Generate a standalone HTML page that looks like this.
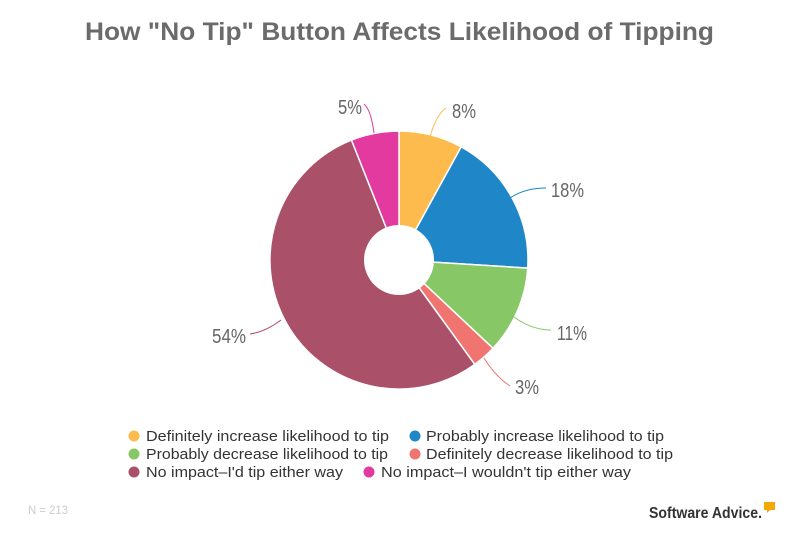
<!DOCTYPE html>
<html><head><style>
body{margin:0;background:#fff;}
svg{display:block;}
</style></head><body>
<svg width="800" height="540" xmlns="http://www.w3.org/2000/svg" font-family="Liberation Sans, sans-serif">
<text x="85" y="40" font-size="25" font-weight="bold" fill="#6b6b6b" textLength="629" lengthAdjust="spacingAndGlyphs">How "No Tip" Button Affects Likelihood of Tipping</text>
<g stroke="#fff" stroke-width="1.5">
<path d="M399,260 L399,131 A129,129 0 0 1 461.2,146.9 Z" fill="#FDBA4D"/>
<path d="M399,260 L461.2,146.9 A129,129 0 0 1 527.7,268.1 Z" fill="#1F87C8"/>
<path d="M399,260 L527.7,268.1 A129,129 0 0 1 493.0,348.3 Z" fill="#88C766"/>
<path d="M399,260 L493.0,348.3 A129,129 0 0 1 474.8,364.4 Z" fill="#F07470"/>
<path d="M399,260 L474.8,364.4 A129,129 0 1 1 351.5,140.1 Z" fill="#AB5069"/>
<path d="M399,260 L351.5,140.1 A129,129 0 0 1 399,131 Z" fill="#E23A9E"/>
</g>
<circle cx="399" cy="260" r="35" fill="#fff"/>
<g fill="none" stroke-width="1">
<path d="M430,137 Q436,115 446,108" stroke="#FDBA4D"/>
<path d="M510,198 Q525,188 546,188" stroke="#1F87C8"/>
<path d="M510,314 Q530,330 551,330" stroke="#88C766"/>
<path d="M484,358 Q495,376 510,386" stroke="#F07470"/>
<path d="M281,320 Q265,332 250,334" stroke="#AB5069"/>
<path d="M374,133 Q371,110 364,104" stroke="#E23A9E"/>
</g>
<g font-size="20" fill="#666" lengthAdjust="spacingAndGlyphs">
<text x="452" y="118" textLength="24" lengthAdjust="spacingAndGlyphs">8%</text>
<text x="551" y="197" textLength="33" lengthAdjust="spacingAndGlyphs">18%</text>
<text x="557" y="340" textLength="30" lengthAdjust="spacingAndGlyphs">11%</text>
<text x="515" y="394" textLength="24" lengthAdjust="spacingAndGlyphs">3%</text>
<text x="212" y="343" textLength="34" lengthAdjust="spacingAndGlyphs">54%</text>
<text x="338" y="114" textLength="24" lengthAdjust="spacingAndGlyphs">5%</text>
</g>
<g font-size="15" fill="#333">
<circle cx="134" cy="436" r="5.5" fill="#FDBA4D"/><text x="146" y="441" textLength="243" lengthAdjust="spacingAndGlyphs">Definitely increase likelihood to tip</text>
<circle cx="415" cy="436" r="5.5" fill="#1F87C8"/><text x="426" y="441" textLength="238" lengthAdjust="spacingAndGlyphs">Probably increase likelihood to tip</text>
<circle cx="134" cy="454" r="5.5" fill="#88C766"/><text x="146" y="459" textLength="242" lengthAdjust="spacingAndGlyphs">Probably decrease likelihood to tip</text>
<circle cx="415" cy="454" r="5.5" fill="#F07470"/><text x="426" y="459" textLength="247" lengthAdjust="spacingAndGlyphs">Definitely decrease likelihood to tip</text>
<circle cx="134" cy="472" r="5.5" fill="#AB5069"/><text x="146" y="477" textLength="197" lengthAdjust="spacingAndGlyphs">No impact–I'd tip either way</text>
<circle cx="369" cy="472" r="5.5" fill="#E23A9E"/><text x="381" y="477" textLength="250" lengthAdjust="spacingAndGlyphs">No impact–I wouldn't tip either way</text>
</g>
<text x="28" y="514" font-size="12" fill="#ccc" textLength="40" lengthAdjust="spacingAndGlyphs">N = 213</text>
<text x="649" y="518" font-size="16" font-weight="bold" fill="#333" textLength="113" lengthAdjust="spacingAndGlyphs">Software Advice.</text>
<path d="M764,502 h11 v8 h-5 l-3,3 v-3 h-3 z" fill="#F5A800"/>
</svg>
</body></html>
